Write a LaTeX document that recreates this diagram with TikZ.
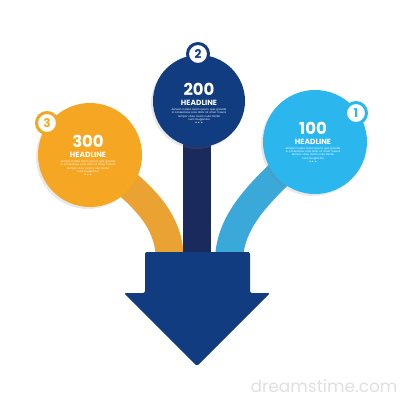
\documentclass[tikz,border=0pt]{standalone}
\usepackage{fontspec}
\setmainfont{Poppins}
\usetikzlibrary{positioning,shadows}
\pgfdeclarelayer{myback}
\pgfsetlayers{myback,main}
\definecolor{navy}{HTML}{123C80}
\definecolor{stemnavy}{HTML}{1B2A5C}
\definecolor{amber}{HTML}{F5A623}
\definecolor{amberdark}{HTML}{EAA232}
\definecolor{sky}{HTML}{2BB7EE}
\definecolor{skydark}{HTML}{3AA8D8}
\tikzset{stepdisc/.style = {circle,fill=#1,inner sep=0pt,
    drop shadow={opacity=.18,shadow xshift=-2pt,shadow yshift=-2pt}}}
\tikzset{badge/.style = {circle,fill=white,draw=#1,line width=3pt,inner sep=0pt,
    minimum size=21pt,text=#1,font=\bfseries\fontsize{12}{12}\selectfont}}
\tikzset{bignum/.style = {text=white,inner sep=0pt,font=\bfseries\fontsize{16.5}{16.5}\selectfont}}
\tikzset{headline/.style = {text=white,inner sep=0pt,font=\bfseries\fontsize{7.5}{8}\selectfont}}
\tikzset{blurb/.style = {text=white,inner sep=0pt,align=center,text width=58pt,
    font=\fontsize{2.6}{3.4}\selectfont}}
\tikzset{dots/.style = {text=white,inner sep=0pt,font=\fontsize{5}{5}\selectfont}}
\tikzset{ribbon/.style = {line width=#1}}
\NewDocumentCommand{\fillertext}{}{%
	Aenean massa lorem ipsum, quis gravida\\ in consectetur eros dolor sit amet mauris\\
	tempor vitae, lorem nulla facilisi\\ nunc feugiat dui}
\NewDocumentCommand{\stepdots}{}{\textbullet\,\textbullet\,\textbullet}

\begin{document}
\begin{tikzpicture}[x=1pt,y=-1pt]
\useasboundingbox (0,0) rectangle (400,400);
\coordinate (arrowtop) at (199,262);
% circles
\node[stepdisc=amber,minimum size=104pt] (c300) at (90,155) {};
\node[stepdisc=sky,minimum size=104pt] (c100) at (315,142) {};
\node[stepdisc=navy,minimum size=92pt] (c200) at (199,101) {};
% ribbons and stem behind
\begin{pgfonlayer}{myback}
\draw[ribbon=28pt,amberdark] (c300.center) .. controls (145,195) and (170,220) .. (arrowtop -| 170,0);
\draw[ribbon=28pt,skydark] (c100.center) .. controls (260,190) and (229,220) .. (arrowtop -| 229,0);
\node[fill=stemnavy,minimum width=28pt,minimum height=120pt,inner sep=0pt] (stem) at (197,200) {};
\end{pgfonlayer}
% arrow
\fill[navy,rounded corners=2pt] (145,252) -- (250,252) -- (250,293) -- (270,293)
	-- (197,366) -- (124,293) -- (145,293) -- cycle;
% texts
\node[bignum] (n200) at (199,89) {200};
\node[headline,below=4.5pt of n200] (h200) {HEADLINE};
\node[blurb,below=2.5pt of h200] (b200) {\fillertext};
\node[dots,below=1pt of b200] (d200) {\stepdots};
\node[bignum] (n300) at (88,141) {300};
\node[headline,below=4.5pt of n300] (h300) {HEADLINE};
\node[blurb,below=2.5pt of h300] (b300) {\fillertext};
\node[dots,below=1pt of b300] (d300) {\stepdots};
\node[bignum] (n100) at (313,128) {100};
\node[headline,below=4.5pt of n100] (h100) {HEADLINE};
\node[blurb,below=2.5pt of h100] (b100) {\fillertext};
\node[dots,below=1pt of b100] (d100) {\stepdots};
% badges
\node[badge=navy] (k2) at (198,54) {2};
\node[badge=amber] (k3) at (47,123) {3};
\node[badge=sky] (k1) at (356,113) {1};
\node[text=black!12,font=\fontsize{17}{17}\selectfont] (mark) at (324,386) {dreamstime.com};
\end{tikzpicture}
\end{document}
